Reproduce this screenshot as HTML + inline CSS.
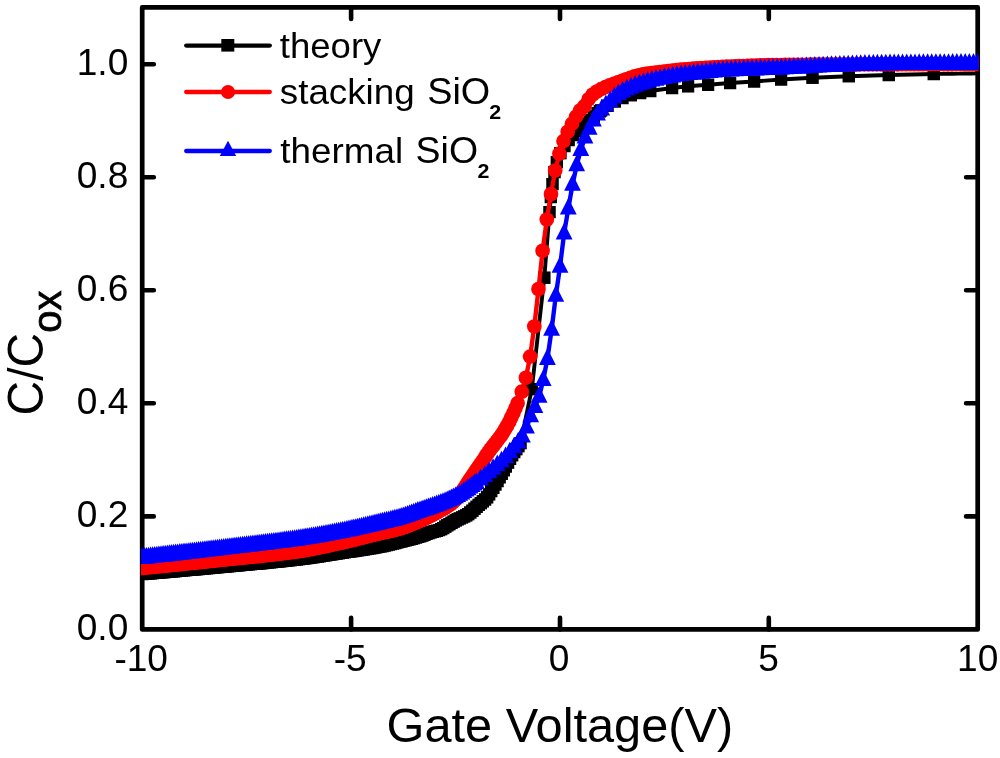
<!DOCTYPE html>
<html lang="en">
<head>
<meta charset="utf-8">
<title>C-V curves: theory, stacking SiO2, thermal SiO2</title>
<style>
html,body{margin:0;padding:0;background:#fff;}
body{width:1000px;height:758px;overflow:hidden;}
svg{display:block;}
</style>
</head>
<body>
<svg width="1000" height="758" viewBox="0 0 1000 758">
<defs>
<clipPath id="pc"><rect x="141" y="7.4" width="837.5" height="622"/></clipPath>
<marker id="msq" markerWidth="13" markerHeight="13" refX="6.5" refY="6.5" markerUnits="userSpaceOnUse"><rect x="0.25" y="0.25" width="12.5" height="12.5" fill="#000"/></marker>
<marker id="mci" markerWidth="16" markerHeight="16" refX="8" refY="8" markerUnits="userSpaceOnUse"><circle cx="8" cy="8" r="7.35" fill="#f00"/></marker>
<marker id="mtr" markerWidth="18" markerHeight="18" refX="9" refY="11" markerUnits="userSpaceOnUse"><path d="M9 0.4 L17.4 17 L0.6 17 Z" fill="#00f"/></marker>
</defs>
<rect width="1000" height="758" fill="#fff"/>
<rect x="142.2" y="7.4" width="835.5" height="622" fill="none" stroke="#000" stroke-width="4.7" stroke-linejoin="round"/>
<path d="M351.1 629.4 v-11.6 M351.1 7.4 v11.6 M560 629.4 v-11.6 M560 7.4 v11.6 M768.8 629.4 v-11.6 M768.8 7.4 v11.6 M142.2 516.4 h11.6 M977.7 516.4 h-11.6 M142.2 403.3 h11.6 M977.7 403.3 h-11.6 M142.2 290.3 h11.6 M977.7 290.3 h-11.6 M142.2 177.2 h11.6 M977.7 177.2 h-11.6 M142.2 64.2 h11.6 M977.7 64.2 h-11.6" stroke="#000" stroke-width="4.6" stroke-linecap="round" fill="none"/>
<g clip-path="url(#pc)" fill="none" stroke-linejoin="round">
<polyline id="theory" points="142.2,574 144.3,573.8 146.4,573.6 148.5,573.4 150.6,573.3 152.7,573.1 154.7,572.9 156.8,572.7 158.9,572.5 161,572.4 163.1,572.2 165.2,572 167.3,571.8 169.4,571.6 171.5,571.4 173.6,571.3 175.6,571.1 177.7,570.9 179.8,570.7 181.9,570.5 184,570.3 186.1,570.1 188.2,569.9 190.3,569.8 192.4,569.6 194.5,569.4 196.5,569.2 198.6,569 200.7,568.8 202.8,568.6 204.9,568.4 207,568.2 209.1,568 211.2,567.8 213.3,567.6 215.4,567.4 217.4,567.2 219.5,567 221.6,566.8 223.7,566.7 225.8,566.5 227.9,566.3 230,566.1 232.1,565.9 234.2,565.7 236.3,565.5 238.3,565.3 240.4,565.1 242.5,564.9 244.6,564.7 246.7,564.5 248.8,564.3 250.9,564.1 253,563.9 255.1,563.7 257.2,563.6 259.2,563.4 261.3,563.2 263.4,563 265.5,562.7 267.6,562.5 269.7,562.3 271.8,562.1 273.9,561.9 276,561.7 278.1,561.5 280.1,561.3 282.2,561 284.3,560.8 286.4,560.6 288.5,560.3 290.6,560.1 292.7,559.9 294.8,559.6 296.9,559.4 299,559.1 301,558.9 303.1,558.6 305.2,558.3 307.3,558 309.4,557.8 311.5,557.4 313.6,557.1 315.7,556.8 317.8,556.5 319.9,556.2 321.9,555.9 324,555.5 326.1,555.2 328.2,554.9 330.3,554.5 332.4,554.2 334.5,553.9 336.6,553.5 338.7,553.2 340.8,552.9 342.8,552.6 344.9,552.2 347,551.9 349.1,551.6 351.2,551.3 353.3,551 355.4,550.7 357.5,550.3 359.6,550 361.7,549.7 363.7,549.4 365.8,549 367.9,548.7 370,548.3 372.1,548 374.2,547.6 376.3,547.2 378.4,546.8 380.5,546.4 382.6,546 384.6,545.5 386.7,545 388.8,544.5 390.9,544 393,543.5 395.1,543 397.2,542.4 399.3,541.9 401.4,541.4 403.5,540.8 405.5,540.3 407.6,539.8 409.7,539.2 411.8,538.7 413.9,538.1 416,537.5 418.1,536.9 420.2,536.2 422.3,535.5 424.4,534.7 426.4,533.9 428.5,533.1 430.6,532.4 432.7,531.8 434.8,531.2 436.9,530.7 439,530 441.1,529.1 443.2,528 445.3,526.6 447.3,525.3 449.4,524.1 451.5,522.8 453.6,521.6 455.7,520.4 457.8,519.3 459.9,518.4 462,517.4 464.1,516.4 466.2,515.4 468.2,514.1 470.3,512.5 472.4,510.7 474.5,508.7 476.6,506.8 478.7,504.9 480.8,503.1 482.9,501.3 485,499.5 487.1,497.3 489.1,494.3 491.2,491 493.3,487.8 495.4,484.5 497.5,481 499.6,477.3 501.7,473.8 503.8,470.2 505.9,466.5 508,462.6 510,458.8 512.1,455.2 514.2,452 516.3,449.1 518.4,446.1 520.5,443.1 531.8,389.1 544.3,277.7 549.5,212 550.9,197 552.5,184 554.5,172 556.9,162 560.4,153.1 564.4,146 568.6,140 573,135 577.1,131 581.5,127 585.7,123.5 590,120 593.7,116.5 597.6,113 599.9,111.3 601,110.4 607.5,105.7 614.7,101.5 622.4,98 630.9,95.2 640.1,93 650.2,91 672,88 688,86.3 708,84.8 730,83 754,81.5 781,79.5 812.5,77.7 848.8,76.2 888.8,75 933.8,74" stroke="#000" stroke-width="3.9" marker-start="url(#msq)" marker-mid="url(#msq)" marker-end="url(#msq)"/>
<polyline points="933.8,74 940,73.9 946.3,73.8 952.6,73.7 958.9,73.6 965.1,73.5 971.4,73.5 977.7,73.4" stroke="#000" stroke-width="3.9"/>
<polyline id="stacking" points="142.2,568 143.7,567.8 145.8,567.6 147.9,567.4 150,567.2 152,567 154.1,566.8 156.2,566.6 158.3,566.4 160.4,566.2 162.5,566 164.6,565.8 166.7,565.6 168.8,565.3 170.8,565.1 172.9,564.9 175,564.7 177.1,564.5 179.2,564.3 181.3,564.1 183.4,563.8 185.5,563.6 187.6,563.4 189.6,563.2 191.7,563 193.8,562.8 195.9,562.6 198,562.3 200.1,562.1 202.2,561.9 204.3,561.7 206.4,561.5 208.4,561.2 210.5,561 212.6,560.8 214.7,560.6 216.8,560.3 218.9,560.1 221,559.9 223.1,559.7 225.2,559.5 227.2,559.2 229.3,559 231.4,558.8 233.5,558.6 235.6,558.4 237.7,558.2 239.8,558 241.9,557.8 243.9,557.5 246,557.3 248.1,557.1 250.2,556.9 252.3,556.7 254.4,556.5 256.5,556.3 258.6,556.1 260.7,555.8 262.7,555.6 264.8,555.4 266.9,555.2 269,554.9 271.1,554.7 273.2,554.5 275.3,554.2 277.4,554 279.5,553.7 281.5,553.5 283.6,553.2 285.7,553 287.8,552.7 289.9,552.4 292,552.1 294.1,551.9 296.2,551.6 298.3,551.3 300.3,550.9 302.4,550.6 304.5,550.3 306.6,549.9 308.7,549.6 310.8,549.2 312.9,548.8 315,548.4 317.1,548 319.1,547.5 321.2,547.1 323.3,546.7 325.4,546.2 327.5,545.8 329.6,545.3 331.7,544.8 333.8,544.4 335.9,543.9 337.9,543.5 340,543 342.1,542.5 344.2,542.1 346.3,541.6 348.4,541.1 350.5,540.6 352.6,540.1 354.7,539.6 356.7,539.1 358.8,538.5 360.9,538 363,537.5 365.1,537 367.2,536.4 369.3,535.9 371.4,535.4 373.5,534.9 375.5,534.4 377.6,533.9 379.7,533.4 381.8,532.9 383.9,532.4 386,532 388.1,531.5 390.2,531.1 392.3,530.6 394.3,530.1 396.4,529.6 398.5,529 400.6,528.4 402.7,527.8 404.8,527 406.9,526.3 409,525.5 411,524.6 413.1,523.8 415.2,522.9 417.3,522 419.4,521.1 421.5,520.1 423.6,519.2 425.7,518.2 427.8,517.2 429.8,516.2 431.9,515.2 434,514.1 436.1,513 438.2,511.8 440.3,510.6 442.4,509.4 444.5,508.2 446.6,506.9 448.6,505.5 450.7,504 452.8,502.3 454.9,500.2 457,497.9 459.1,495.3 461.2,492.6 463.3,489.6 465.4,486.4 467.4,483.1 469.5,480 471.6,476.9 473.7,473.9 475.8,470.8 477.9,467.8 480,464.8 482.1,461.7 484.2,458.6 486.2,455.5 488.3,452.5 490.4,449.5 492.5,446.7 494.6,444 496.7,441.4 498.8,438.6 500.9,435.7 503,432.6 505,429.3 507.1,425.7 509.2,421.9 511.3,417.5 513.4,412.9 515.5,408.1 517.6,403.1 521.8,391.7 525.9,377.8 530.1,356.6 534.3,326.5 538.5,289 542.6,250.8 546.8,219.5 551,194 555.2,170.5 559.4,153.7 563.5,141.1 567.7,131.8 571.9,123.9 576.1,116.6 580.2,110.4 584.4,106.2 588.6,99.3 592.8,94.5 596.9,91.5 601.1,89.1 605.3,87.1 609.5,85.4 613.7,83.9 617.8,82.4 622,80.9 626.2,79.3 630.4,77.8 634.5,76.4 638.7,75.3 642.9,74.4 647.1,73.7 651.3,73.1 655.4,72.6 659.6,72.1 663.8,71.5 668,71 672.1,70.5 676.3,70 680.5,69.7 684.7,69.3 688.9,69 693,68.6 697.2,68.3 701.4,68 705.6,67.8 709.7,67.5 713.9,67.3 718.1,67.1 722.3,66.9 726.4,66.7 730.6,66.5 734.8,66.3 739,66.2 743.2,66 747.3,65.8 751.5,65.7 755.7,65.6 759.9,65.4 764,65.3 768.2,65.2 772.4,65.1 776.6,65 780.8,65 784.9,64.9 789.1,64.9 793.3,64.9 797.5,64.8 801.6,64.8 805.8,64.8 810,64.7 814.2,64.7 818.4,64.7 822.5,64.6 826.7,64.6 830.9,64.6 835.1,64.6 839.2,64.6 843.4,64.5 847.6,64.5 851.8,64.5 856,64.5 860.1,64.4 864.3,64.4 868.5,64.4 872.7,64.4 876.8,64.4 881,64.3 885.2,64.3 889.4,64.3 893.5,64.3 897.7,64.3 901.9,64.2 906.1,64.2 910.3,64.2 914.4,64.2 918.6,64.2 922.8,64.2 927,64.1 931.1,64.1 935.3,64.1 939.5,64.1 943.7,64.1 947.9,64.1 952,64.1 956.2,64 960.4,64 964.6,64 968.7,64 972.9,64 977.1,64" stroke="#f00" stroke-width="4.4" marker-start="url(#mci)" marker-mid="url(#mci)" marker-end="url(#mci)"/>
<polyline id="thermal" points="142.2,558 144.3,557.7 146.4,557.5 148.5,557.3 150.6,557 152.6,556.8 154.7,556.6 156.8,556.3 158.9,556.1 161,555.9 163.1,555.6 165.2,555.4 167.3,555.2 169.4,554.9 171.4,554.7 173.5,554.4 175.6,554.2 177.7,554 179.8,553.7 181.9,553.5 184,553.2 186.1,553 188.2,552.8 190.2,552.5 192.3,552.3 194.4,552 196.5,551.8 198.6,551.5 200.7,551.3 202.8,551 204.9,550.8 207,550.6 209,550.3 211.1,550.1 213.2,549.8 215.3,549.6 217.4,549.3 219.5,549.1 221.6,548.8 223.7,548.6 225.8,548.3 227.8,548.1 229.9,547.8 232,547.6 234.1,547.3 236.2,547.1 238.3,546.8 240.4,546.6 242.5,546.4 244.5,546.1 246.6,545.9 248.7,545.6 250.8,545.4 252.9,545.1 255,544.9 257.1,544.6 259.2,544.4 261.3,544.1 263.3,543.9 265.4,543.6 267.5,543.4 269.6,543.1 271.7,542.8 273.8,542.6 275.9,542.3 278,542 280.1,541.8 282.1,541.5 284.2,541.2 286.3,540.9 288.4,540.7 290.5,540.4 292.6,540.1 294.7,539.8 296.8,539.5 298.9,539.2 300.9,538.9 303,538.5 305.1,538.2 307.2,537.9 309.3,537.6 311.4,537.2 313.5,536.9 315.6,536.5 317.7,536.2 319.7,535.8 321.8,535.4 323.9,535 326,534.7 328.1,534.3 330.2,533.9 332.3,533.5 334.4,533.1 336.5,532.7 338.5,532.3 340.6,531.9 342.7,531.5 344.8,531 346.9,530.6 349,530.2 351.1,529.7 353.2,529.2 355.3,528.8 357.3,528.3 359.4,527.8 361.5,527.4 363.6,526.9 365.7,526.4 367.8,525.9 369.9,525.4 372,524.9 374.1,524.4 376.1,523.9 378.2,523.4 380.3,522.9 382.4,522.4 384.5,521.9 386.6,521.4 388.7,521 390.8,520.4 392.9,519.9 394.9,519.4 397,518.8 399.1,518.3 401.2,517.6 403.3,517 405.4,516.3 407.5,515.6 409.6,514.8 411.6,514 413.7,513.3 415.8,512.5 417.9,511.7 420,511 422.1,510.3 424.2,509.6 426.3,508.9 428.4,508.2 430.4,507.5 432.5,506.7 434.6,506 436.7,505.2 438.8,504.5 440.9,503.6 443,502.8 445.1,502 447.2,501.1 449.2,500.2 451.3,499.2 453.4,498.2 455.5,497.2 457.6,496 459.7,494.8 461.8,493.5 463.9,492.1 466,490.6 468,489.2 470.1,487.6 472.2,486.1 474.3,484.5 476.4,482.9 480.6,479.4 484.8,475.9 488.9,472.3 493.1,468.8 497.3,465.1 501.5,461.3 505.6,457 509.8,452.3 514,447.3 518.2,442.4 522.4,436.5 526.5,427.6 530.7,416.2 534.9,406.9 539.1,396.7 543.2,380.1 547.4,358.9 551.6,329.8 555.8,295.8 560,266.8 564.1,233.5 568.3,208.6 572.5,184.7 576.7,165.2 580.8,149.9 585,137.5 589.2,128.8 593.4,120.6 597.5,114.5 601.7,109.5 605.9,105.2 610.1,101.3 614.3,97.4 618.4,94 622.6,91.5 626.8,89.3 631,87.4 635.1,85.7 639.3,84.2 643.5,82.9 647.7,81.7 651.9,80.6 656,79.7 660.2,78.8 664.4,77.9 668.6,77.1 672.7,76.4 676.9,75.7 681.1,75.1 685.3,74.6 689.5,74.1 693.6,73.7 697.8,73.2 702,72.8 706.2,72.3 710.3,71.9 714.5,71.4 718.7,71.1 722.9,70.8 727.1,70.6 731.2,70.4 735.4,70.2 739.6,70 743.8,69.8 747.9,69.7 752.1,69.5 756.3,69.4 760.5,69.2 764.6,69.1 768.8,68.9 773,68.8 777.2,68.6 781.4,68.4 785.5,68.3 789.7,68.1 793.9,67.8 798.1,67.6 802.2,67.4 806.4,67.2 810.6,67 814.8,66.7 819,66.5 823.1,66.3 827.3,66.1 831.5,65.9 835.7,65.8 839.8,65.6 844,65.5 848.2,65.3 852.4,65.2 856.6,65 860.7,64.9 864.9,64.7 869.1,64.6 873.3,64.5 877.4,64.4 881.6,64.3 885.8,64.3 890,64.2 894.2,64.2 898.3,64.1 902.5,64.1 906.7,64 910.9,64 915,64 919.2,63.9 923.4,63.9 927.6,63.9 931.7,63.9 935.9,63.8 940.1,63.8 944.3,63.8 948.5,63.8 952.6,63.7 956.8,63.7 961,63.7 965.2,63.7 969.3,63.7 973.5,63.7 977.7,63.7" stroke="#00f" stroke-width="4.4" marker-start="url(#mtr)" marker-mid="url(#mtr)" marker-end="url(#mtr)"/>
</g>
<g stroke-width="4.3" stroke-linecap="round">
<path d="M186.2 45.6 H269.8" stroke="#000"/><rect x="221.3" y="39" width="13" height="12.6" fill="#000"/>
<path d="M186.2 92 H269.8" stroke="#f00"/><circle cx="228" cy="92" r="7" fill="#f00"/>
<path d="M186.2 151 H269.8" stroke="#00f"/><path d="M228 140.8 L236.2 156 L219.8 156 Z" fill="#00f"/>
</g>
<g font-family="'Liberation Sans', Arial, sans-serif" fill="#000">
<text transform="translate(279.8 57.7) scale(1.015 1)" font-size="36" text-anchor="start">theory</text>
<text transform="translate(279.8 103.6) scale(1.022 1)" font-size="36" text-anchor="start">stacking</text>
<text transform="translate(427.2 103.6) scale(1.05 1)" font-size="36" text-anchor="start">SiO</text>
<text transform="translate(489.3 119) scale(1.02 1)" font-size="21" text-anchor="start" font-weight="bold">2</text>
<text transform="translate(280.3 162.6) scale(1.023 1)" font-size="36" text-anchor="start">thermal</text>
<text transform="translate(415.6 162.6) scale(1.04 1)" font-size="36" text-anchor="start">SiO</text>
<text transform="translate(477.4 177.6) scale(1.02 1)" font-size="21" text-anchor="start" font-weight="bold">2</text>
<text transform="translate(128.3 639.8) scale(1.03 1)" font-size="36" text-anchor="end">0.0</text>
<text transform="translate(128.3 526.8) scale(1.03 1)" font-size="36" text-anchor="end">0.2</text>
<text transform="translate(128.3 413.7) scale(1.03 1)" font-size="36" text-anchor="end">0.4</text>
<text transform="translate(128.3 300.7) scale(1.03 1)" font-size="36" text-anchor="end">0.6</text>
<text transform="translate(128.3 187.6) scale(1.03 1)" font-size="36" text-anchor="end">0.8</text>
<text transform="translate(128.3 74.6) scale(1.03 1)" font-size="36" text-anchor="end">1.0</text>
<text transform="translate(141.2 671.2) scale(1.03 1)" font-size="36" text-anchor="middle">-10</text>
<text transform="translate(350.1 671.2) scale(1.03 1)" font-size="36" text-anchor="middle">-5</text>
<text transform="translate(559 671.2) scale(1.03 1)" font-size="36" text-anchor="middle">0</text>
<text transform="translate(768.5 671.2) scale(1.03 1)" font-size="36" text-anchor="middle">5</text>
<text transform="translate(977.7 671.2) scale(1.03 1)" font-size="36" text-anchor="middle">10</text>
<text transform="translate(386.6 742) scale(1.015 1)" font-size="48" text-anchor="start">Gate Voltage(V)</text>
<text transform="translate(43 415.5) rotate(-90) scale(1 1.03)" font-size="48">C/C<tspan font-size="40" dy="17.5" stroke="#000" stroke-width="0.7">ox</tspan></text>
</g>
</svg>
</body>
</html>
